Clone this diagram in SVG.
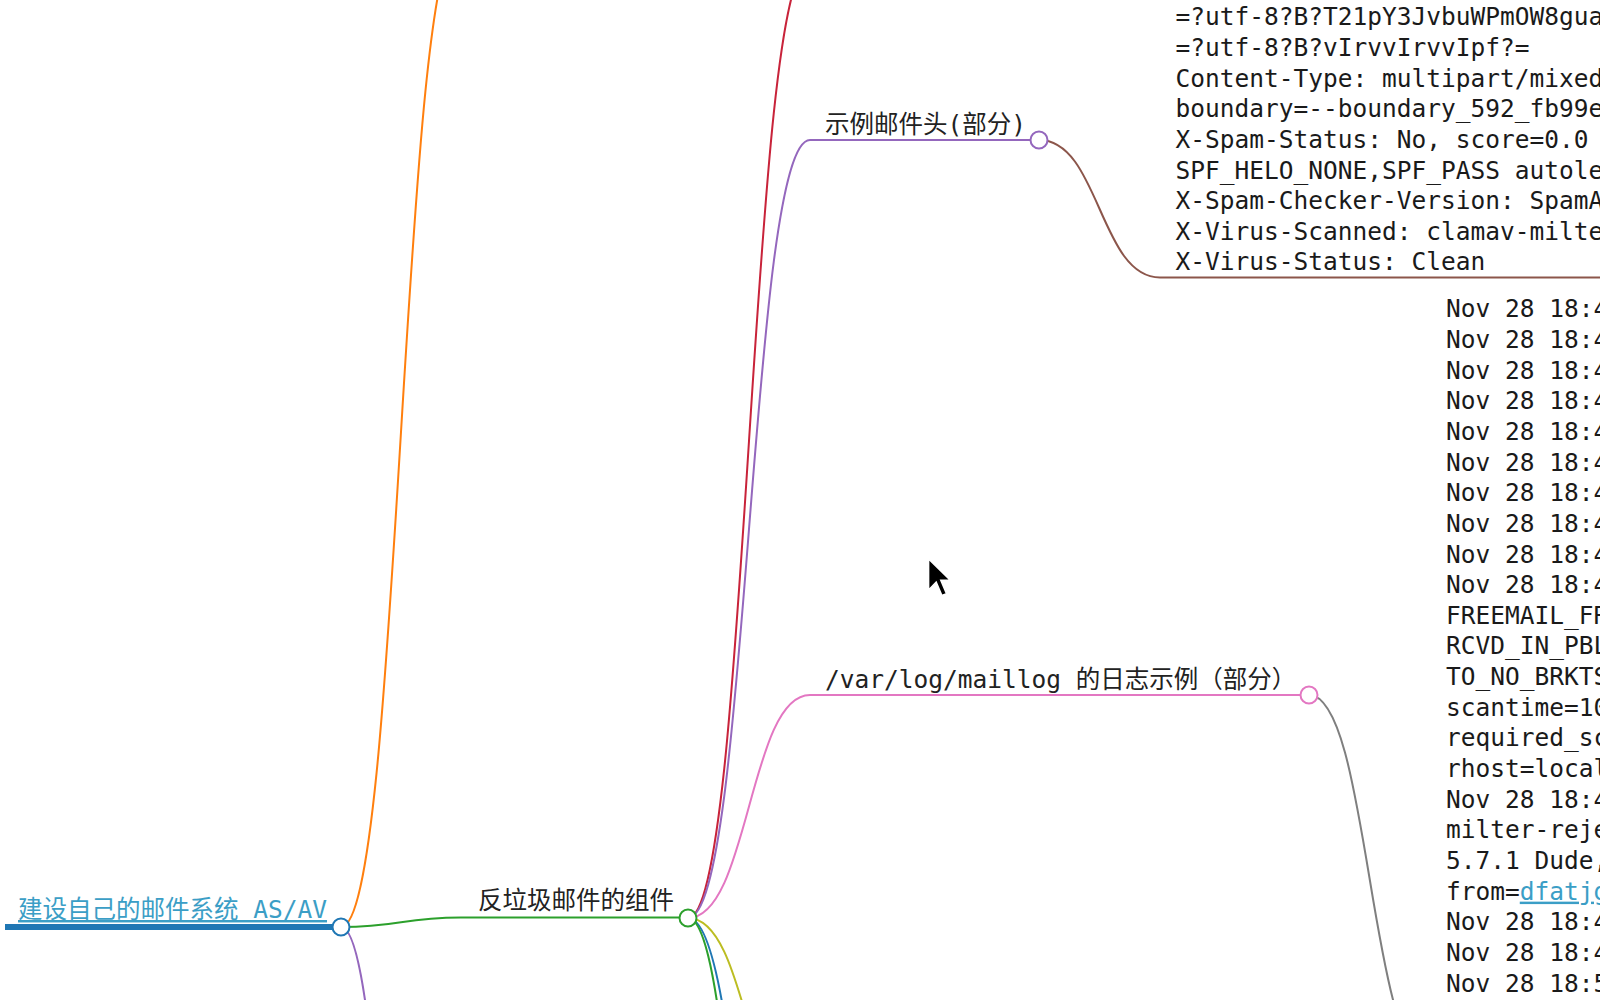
<svg xmlns="http://www.w3.org/2000/svg" width="1600" height="1000" viewBox="0 0 1600 1000">
  <style>
    .lbl { font-family: 'DejaVu Sans Mono', 'Noto Sans CJK SC', monospace; font-size: 24.5px; fill: #222; }
    .code { font-family: 'DejaVu Sans Mono', 'Noto Sans CJK SC', monospace; font-size: 24.5px; fill: #1a1a1a; }
    .link { fill: none; stroke-width: 2; }
    .nline { fill: none; stroke-width: 2; }
    .dot { fill: #fff; stroke-width: 2; }
    .a { fill: #3b9ec6; text-decoration: underline; }
  </style>
  <rect width="1600" height="1000" fill="#fff"/>

  <g id="connectors">
    <path class="link" stroke="#ff7f0e" d="M341,927 C401,927 401,-63 461,-63"/>
    <path class="link" stroke="#2ca02c" d="M341,927 C401,927 401,917.5 461,917.5"/>
    <path class="link" stroke="#9467bd" d="M341,927 C401,927 401,2057 461,2057"/>
    <path class="link" stroke="#c8233a" d="M688,918 C749,918 749,-36 810,-36"/>
    <path class="link" stroke="#9467bd" d="M688,918 C749,918 749,140 810,140"/>
    <path class="link" stroke="#e377c2" d="M688,918 C749,918 749,695 810,695"/>
    <path class="link" stroke="#bcbd22" d="M688,918 C749,918 749,1133 810,1133"/>
    <path class="link" stroke="#1f77b4" d="M688,918 C749,918 749,1539 810,1539"/>
    <path class="link" stroke="#2ca02c" d="M688,918 C749,918 749,1803 810,1803"/>
    <path class="link" stroke="#8c564b" d="M1039,140 C1099.5,140 1099.5,277.5 1160,277.5"/>
    <path class="link" stroke="#7f7f7f" d="M1309,695 C1369.5,695 1369.5,1061 1430,1061"/>
  </g>

  <g id="node-root">
    <line x1="5" y1="927" x2="341" y2="927" stroke="#1f77b4" stroke-width="6"/>
    <text class="lbl a" x="18" y="918">建设自己的邮件系统 AS/AV</text>
    <circle class="dot" cx="341" cy="927" r="8.5" stroke="#1f77b4"/>
  </g>

  <g id="node-antispam">
    <line class="nline" x1="461" y1="917.5" x2="688" y2="917.5" stroke="#2ca02c" stroke-width="2.5"/>
    <text class="lbl" x="478" y="909">反垃圾邮件的组件</text>
    <circle class="dot" cx="688" cy="918" r="8.5" stroke="#2ca02c"/>
  </g>

  <g id="node-header">
    <line class="nline" x1="810" y1="140" x2="1039" y2="140" stroke="#9467bd"/>
    <text class="lbl" x="825" y="133">示例邮件头(部分)</text>
    <circle class="dot" cx="1039" cy="140" r="8.5" stroke="#9467bd"/>
  </g>

  <g id="node-header-code">
    <line class="nline" x1="1160" y1="277.5" x2="1600" y2="277.5" stroke="#8c564b"/>
    <text class="code" x="1175.5" y="25.3">
      <tspan x="1175.5">=?utf-8?B?T21pY3JvbuWPmOW8gua</tspan>
      <tspan x="1175.5" dy="30.65">=?utf-8?B?vIrvvIrvvIpf?=</tspan>
      <tspan x="1175.5" dy="30.65">Content-Type: multipart/mixed</tspan>
      <tspan x="1175.5" dy="30.65">boundary=--boundary_592_fb99e</tspan>
      <tspan x="1175.5" dy="30.65">X-Spam-Status: No, score=0.0</tspan>
      <tspan x="1175.5" dy="30.65">SPF_HELO_NONE,SPF_PASS autole</tspan>
      <tspan x="1175.5" dy="30.65">X-Spam-Checker-Version: SpamA</tspan>
      <tspan x="1175.5" dy="30.65">X-Virus-Scanned: clamav-milte</tspan>
      <tspan x="1175.5" dy="30.65">X-Virus-Status: Clean</tspan>
    </text>
  </g>

  <g id="node-maillog">
    <line class="nline" x1="810" y1="695" x2="1309" y2="695" stroke="#e377c2"/>
    <text class="lbl" x="825" y="688">/var/log/maillog 的日志示例（部分）</text>
    <circle class="dot" cx="1309" cy="695" r="8.5" stroke="#e377c2"/>
  </g>

  <g id="node-maillog-code">
    <text class="code" x="1446" y="317.3">
      <tspan x="1446">Nov 28 18:4</tspan>
      <tspan x="1446" dy="30.65">Nov 28 18:4</tspan>
      <tspan x="1446" dy="30.65">Nov 28 18:4</tspan>
      <tspan x="1446" dy="30.65">Nov 28 18:4</tspan>
      <tspan x="1446" dy="30.65">Nov 28 18:4</tspan>
      <tspan x="1446" dy="30.65">Nov 28 18:4</tspan>
      <tspan x="1446" dy="30.65">Nov 28 18:4</tspan>
      <tspan x="1446" dy="30.65">Nov 28 18:4</tspan>
      <tspan x="1446" dy="30.65">Nov 28 18:4</tspan>
      <tspan x="1446" dy="30.65">Nov 28 18:4</tspan>
      <tspan x="1446" dy="30.65">FREEMAIL_FR</tspan>
      <tspan x="1446" dy="30.65">RCVD_IN_PBL</tspan>
      <tspan x="1446" dy="30.65">TO_NO_BRKTS</tspan>
      <tspan x="1446" dy="30.65">scantime=10</tspan>
      <tspan x="1446" dy="30.65">required_sc</tspan>
      <tspan x="1446" dy="30.65">rhost=local</tspan>
      <tspan x="1446" dy="30.65">Nov 28 18:4</tspan>
      <tspan x="1446" dy="30.65">milter-reje</tspan>
      <tspan x="1446" dy="30.65">5.7.1 Dude,</tspan>
      <tspan x="1446" dy="30.65">from=<tspan class="a">dfatjg</tspan></tspan>
      <tspan x="1446" dy="30.65">Nov 28 18:4</tspan>
      <tspan x="1446" dy="30.65">Nov 28 18:4</tspan>
      <tspan x="1446" dy="30.65">Nov 28 18:5</tspan>
    </text>
  </g>

  <polygon points="928.6,559 928.6,590 936.2,582.2 941.9,595.5 946.5,593.6 940.8,580.3 950.3,580.3" fill="#000" stroke="#fff" stroke-width="1.5"/>
</svg>
